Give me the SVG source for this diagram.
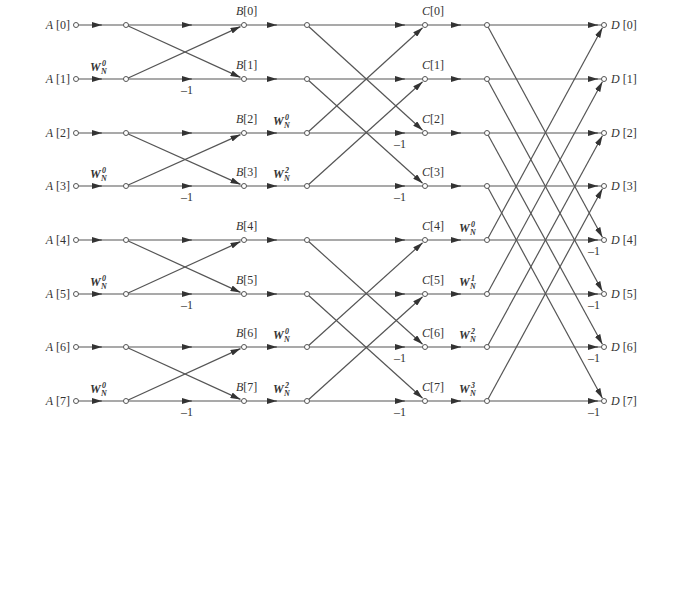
<svg xmlns="http://www.w3.org/2000/svg" width="686" height="608" viewBox="0 0 686 608">
<style>
.l{stroke:#555;stroke-width:1.2;fill:none}
.n{fill:#fff;stroke:#555;stroke-width:1}
text{font-family:"Liberation Serif",serif;font-size:12px;fill:#333}
.i{font-style:italic}
.w{font-weight:bold;font-style:italic;font-size:12px}
.s{font-size:8px;font-weight:bold;font-style:italic}
</style>
<defs>
<marker id="a" viewBox="0 0 10 6" refX="10" refY="3" markerWidth="10" markerHeight="6" markerUnits="userSpaceOnUse" orient="auto"><path d="M0,0L10,3L0,6z" fill="#333"/></marker>
<path id="h" d="M-2,0H0" class="l" marker-end="url(#a)"/>
</defs>
<rect width="686" height="608" fill="#fff"/>
<g id="connectors">
<path class="l" d="M76,25H604M76,79H604M76,133H604M76,186H604M76,240H604M76,294H604M76,347H604M76,401H604"/>
<g id="harrows">
<use href="#h" x="102" y="25"/><use href="#h" x="102" y="79"/><use href="#h" x="102" y="133"/><use href="#h" x="102" y="186"/><use href="#h" x="102" y="240"/><use href="#h" x="102" y="294"/><use href="#h" x="102" y="347"/><use href="#h" x="102" y="401"/>
<use href="#h" x="192" y="25"/><use href="#h" x="192" y="79"/><use href="#h" x="192" y="133"/><use href="#h" x="192" y="186"/><use href="#h" x="192" y="240"/><use href="#h" x="192" y="294"/><use href="#h" x="192" y="347"/><use href="#h" x="192" y="401"/>
<use href="#h" x="277" y="25"/><use href="#h" x="277" y="79"/><use href="#h" x="277" y="133"/><use href="#h" x="277" y="186"/><use href="#h" x="277" y="240"/><use href="#h" x="277" y="294"/><use href="#h" x="277" y="347"/><use href="#h" x="277" y="401"/>
<use href="#h" x="405" y="25"/><use href="#h" x="405" y="79"/><use href="#h" x="405" y="133"/><use href="#h" x="405" y="186"/><use href="#h" x="405" y="240"/><use href="#h" x="405" y="294"/><use href="#h" x="405" y="347"/><use href="#h" x="405" y="401"/>
<use href="#h" x="461" y="25"/><use href="#h" x="461" y="79"/><use href="#h" x="461" y="133"/><use href="#h" x="461" y="186"/><use href="#h" x="461" y="240"/><use href="#h" x="461" y="294"/><use href="#h" x="461" y="347"/><use href="#h" x="461" y="401"/>
<use href="#h" x="598" y="25"/><use href="#h" x="598" y="79"/><use href="#h" x="598" y="133"/><use href="#h" x="598" y="186"/><use href="#h" x="598" y="240"/><use href="#h" x="598" y="294"/><use href="#h" x="598" y="347"/><use href="#h" x="598" y="401"/>
</g>
<g class="l" marker-end="url(#a)">
<path d="M126,25L240.5,77.4"/><path d="M126,79L240.5,26.6"/><path d="M126,133L240.5,184.4"/><path d="M126,186L240.5,134.6"/><path d="M126,240L240.5,292.4"/><path d="M126,294L240.5,241.6"/><path d="M126,347L240.5,399.4"/><path d="M126,401L240.5,348.6"/>
<path d="M307,25L422.6,130.3"/><path d="M307,79L422.6,183.3"/><path d="M307,133L422.6,27.7"/><path d="M307,186L422.6,81.7"/><path d="M307,240L422.6,344.3"/><path d="M307,294L422.6,398.3"/><path d="M307,347L422.6,242.7"/><path d="M307,401L422.6,296.7"/>
<path d="M487,25L602.4,237.2"/><path d="M487,79L602.4,291.2"/><path d="M487,133L602.4,344.2"/><path d="M487,186L602.4,398.2"/><path d="M487,240L602.4,27.8"/><path d="M487,294L602.4,81.8"/><path d="M487,347L602.4,135.8"/><path d="M487,401L602.4,188.8"/>
</g>
</g>
<g id="nodes">
<g id="colA"><circle class="n" cx="76" cy="25" r="2.5"/><circle class="n" cx="76" cy="79" r="2.5"/><circle class="n" cx="76" cy="133" r="2.5"/><circle class="n" cx="76" cy="186" r="2.5"/><circle class="n" cx="76" cy="240" r="2.5"/><circle class="n" cx="76" cy="294" r="2.5"/><circle class="n" cx="76" cy="347" r="2.5"/><circle class="n" cx="76" cy="401" r="2.5"/></g>
<g id="col1"><circle class="n" cx="126" cy="25" r="2.5"/><circle class="n" cx="126" cy="79" r="2.5"/><circle class="n" cx="126" cy="133" r="2.5"/><circle class="n" cx="126" cy="186" r="2.5"/><circle class="n" cx="126" cy="240" r="2.5"/><circle class="n" cx="126" cy="294" r="2.5"/><circle class="n" cx="126" cy="347" r="2.5"/><circle class="n" cx="126" cy="401" r="2.5"/></g>
<g id="colB"><circle class="n" cx="244" cy="25" r="2.5"/><circle class="n" cx="244" cy="79" r="2.5"/><circle class="n" cx="244" cy="133" r="2.5"/><circle class="n" cx="244" cy="186" r="2.5"/><circle class="n" cx="244" cy="240" r="2.5"/><circle class="n" cx="244" cy="294" r="2.5"/><circle class="n" cx="244" cy="347" r="2.5"/><circle class="n" cx="244" cy="401" r="2.5"/></g>
<g id="col3"><circle class="n" cx="307" cy="25" r="2.5"/><circle class="n" cx="307" cy="79" r="2.5"/><circle class="n" cx="307" cy="133" r="2.5"/><circle class="n" cx="307" cy="186" r="2.5"/><circle class="n" cx="307" cy="240" r="2.5"/><circle class="n" cx="307" cy="294" r="2.5"/><circle class="n" cx="307" cy="347" r="2.5"/><circle class="n" cx="307" cy="401" r="2.5"/></g>
<g id="colC"><circle class="n" cx="425" cy="25" r="2.5"/><circle class="n" cx="425" cy="79" r="2.5"/><circle class="n" cx="425" cy="133" r="2.5"/><circle class="n" cx="425" cy="186" r="2.5"/><circle class="n" cx="425" cy="240" r="2.5"/><circle class="n" cx="425" cy="294" r="2.5"/><circle class="n" cx="425" cy="347" r="2.5"/><circle class="n" cx="425" cy="401" r="2.5"/></g>
<g id="col5"><circle class="n" cx="487" cy="25" r="2.5"/><circle class="n" cx="487" cy="79" r="2.5"/><circle class="n" cx="487" cy="133" r="2.5"/><circle class="n" cx="487" cy="186" r="2.5"/><circle class="n" cx="487" cy="240" r="2.5"/><circle class="n" cx="487" cy="294" r="2.5"/><circle class="n" cx="487" cy="347" r="2.5"/><circle class="n" cx="487" cy="401" r="2.5"/></g>
<g id="colD"><circle class="n" cx="604" cy="25" r="2.5"/><circle class="n" cx="604" cy="79" r="2.5"/><circle class="n" cx="604" cy="133" r="2.5"/><circle class="n" cx="604" cy="186" r="2.5"/><circle class="n" cx="604" cy="240" r="2.5"/><circle class="n" cx="604" cy="294" r="2.5"/><circle class="n" cx="604" cy="347" r="2.5"/><circle class="n" cx="604" cy="401" r="2.5"/></g>
</g>
<g id="labels">
<g text-anchor="end">
<text x="70" y="29"><tspan class="i">A</tspan> [0]</text><text x="70" y="83"><tspan class="i">A</tspan> [1]</text><text x="70" y="137"><tspan class="i">A</tspan> [2]</text><text x="70" y="190"><tspan class="i">A</tspan> [3]</text><text x="70" y="244"><tspan class="i">A</tspan> [4]</text><text x="70" y="298"><tspan class="i">A</tspan> [5]</text><text x="70" y="351"><tspan class="i">A</tspan> [6]</text><text x="70" y="405"><tspan class="i">A</tspan> [7]</text>
</g>
<g>
<text x="236" y="15"><tspan class="i">B</tspan>[0]</text><text x="236" y="69"><tspan class="i">B</tspan>[1]</text><text x="236" y="123"><tspan class="i">B</tspan>[2]</text><text x="236" y="176"><tspan class="i">B</tspan>[3]</text><text x="236" y="230"><tspan class="i">B</tspan>[4]</text><text x="236" y="284"><tspan class="i">B</tspan>[5]</text><text x="236" y="337"><tspan class="i">B</tspan>[6]</text><text x="236" y="391"><tspan class="i">B</tspan>[7]</text>
<text x="422" y="15"><tspan class="i">C</tspan>[0]</text><text x="422" y="69"><tspan class="i">C</tspan>[1]</text><text x="422" y="123"><tspan class="i">C</tspan>[2]</text><text x="422" y="176"><tspan class="i">C</tspan>[3]</text><text x="422" y="230"><tspan class="i">C</tspan>[4]</text><text x="422" y="284"><tspan class="i">C</tspan>[5]</text><text x="422" y="337"><tspan class="i">C</tspan>[6]</text><text x="422" y="391"><tspan class="i">C</tspan>[7]</text>
<text x="611" y="29"><tspan class="i">D</tspan> [0]</text><text x="611" y="83"><tspan class="i">D</tspan> [1]</text><text x="611" y="137"><tspan class="i">D</tspan> [2]</text><text x="611" y="190"><tspan class="i">D</tspan> [3]</text><text x="611" y="244"><tspan class="i">D</tspan> [4]</text><text x="611" y="298"><tspan class="i">D</tspan> [5]</text><text x="611" y="351"><tspan class="i">D</tspan> [6]</text><text x="611" y="405"><tspan class="i">D</tspan> [7]</text>
</g>
<g id="twiddles">
<text x="90" y="71" class="w">W</text><text x="102" y="66" class="s">0</text><text x="101" y="74" class="s">N</text>
<text x="90" y="178" class="w">W</text><text x="102" y="173" class="s">0</text><text x="101" y="181" class="s">N</text>
<text x="90" y="286" class="w">W</text><text x="102" y="281" class="s">0</text><text x="101" y="289" class="s">N</text>
<text x="90" y="393" class="w">W</text><text x="102" y="388" class="s">0</text><text x="101" y="396" class="s">N</text>
<text x="273" y="125" class="w">W</text><text x="285" y="120" class="s">0</text><text x="284" y="128" class="s">N</text>
<text x="273" y="178" class="w">W</text><text x="285" y="173" class="s">2</text><text x="284" y="181" class="s">N</text>
<text x="273" y="339" class="w">W</text><text x="285" y="334" class="s">0</text><text x="284" y="342" class="s">N</text>
<text x="273" y="393" class="w">W</text><text x="285" y="388" class="s">2</text><text x="284" y="396" class="s">N</text>
<text x="459" y="232" class="w">W</text><text x="471" y="227" class="s">0</text><text x="470" y="235" class="s">N</text>
<text x="459" y="286" class="w">W</text><text x="471" y="281" class="s">1</text><text x="470" y="289" class="s">N</text>
<text x="459" y="339" class="w">W</text><text x="471" y="334" class="s">2</text><text x="470" y="342" class="s">N</text>
<text x="459" y="393" class="w">W</text><text x="471" y="388" class="s">3</text><text x="470" y="396" class="s">N</text>
</g>
<g text-anchor="middle">
<text x="187" y="94">–1</text><text x="187" y="201">–1</text><text x="187" y="309">–1</text><text x="187" y="416">–1</text>
<text x="400" y="148">–1</text><text x="400" y="201">–1</text><text x="400" y="362">–1</text><text x="400" y="416">–1</text>
<text x="594" y="255">–1</text><text x="594" y="309">–1</text><text x="594" y="362">–1</text><text x="594" y="416">–1</text>
</g>
</g>
</svg>
